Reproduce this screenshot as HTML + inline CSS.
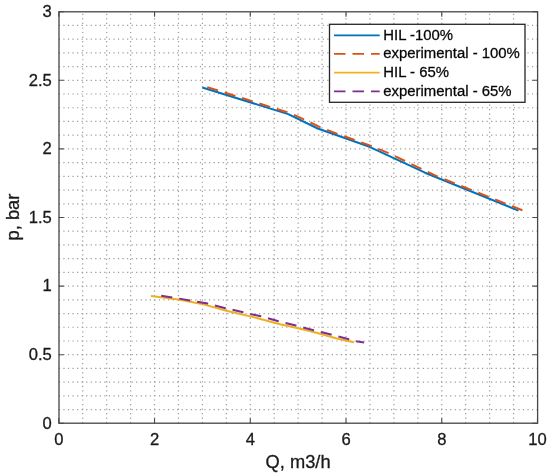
<!DOCTYPE html>
<html><head><meta charset="utf-8"><title>p vs Q</title>
<style>
html,body{margin:0;padding:0;background:#fff;}
svg{display:block;font-family:"Liberation Sans",Arial,sans-serif;}
text{stroke:#1a1a1a;stroke-width:0.3px;}
</style></head>
<body>
<svg width="550" height="475" viewBox="0 0 550 475">
<rect width="550" height="475" fill="#fff"/>
<g stroke="#9a9a9a" stroke-width="1.2" stroke-dasharray="1.2 3.35" fill="none"><line x1="82.73" y1="423.3" x2="82.73" y2="11.7" stroke-dasharray="1.2 3.337"/><line x1="106.67" y1="423.3" x2="106.67" y2="11.7" stroke-dasharray="1.2 3.337"/><line x1="130.6" y1="423.3" x2="130.6" y2="11.7" stroke-dasharray="1.2 3.337"/><line x1="154.54" y1="423.3" x2="154.54" y2="11.7" stroke-dasharray="1.2 3.337"/><line x1="178.47" y1="423.3" x2="178.47" y2="11.7" stroke-dasharray="1.2 3.337"/><line x1="202.41" y1="423.3" x2="202.41" y2="11.7" stroke-dasharray="1.2 3.337"/><line x1="226.35" y1="423.3" x2="226.35" y2="11.7" stroke-dasharray="1.2 3.337"/><line x1="250.28" y1="423.3" x2="250.28" y2="11.7" stroke-dasharray="1.2 3.337"/><line x1="274.22" y1="423.3" x2="274.22" y2="11.7" stroke-dasharray="1.2 3.337"/><line x1="298.15" y1="423.3" x2="298.15" y2="11.7" stroke-dasharray="1.2 3.337"/><line x1="322.08" y1="423.3" x2="322.08" y2="11.7" stroke-dasharray="1.2 3.337"/><line x1="346.02" y1="423.3" x2="346.02" y2="11.7" stroke-dasharray="1.2 3.337"/><line x1="369.95" y1="423.3" x2="369.95" y2="11.7" stroke-dasharray="1.2 3.337"/><line x1="393.89" y1="423.3" x2="393.89" y2="11.7" stroke-dasharray="1.2 3.337"/><line x1="417.82" y1="423.3" x2="417.82" y2="11.7" stroke-dasharray="1.2 3.337"/><line x1="441.76" y1="423.3" x2="441.76" y2="11.7" stroke-dasharray="1.2 3.337"/><line x1="465.69" y1="423.3" x2="465.69" y2="11.7" stroke-dasharray="1.2 3.337"/><line x1="489.63" y1="423.3" x2="489.63" y2="11.7" stroke-dasharray="1.2 3.337"/><line x1="513.56" y1="423.3" x2="513.56" y2="11.7" stroke-dasharray="1.2 3.337"/><line x1="58.8" y1="409.58" x2="537.5" y2="409.58"/><line x1="58.8" y1="395.86" x2="537.5" y2="395.86"/><line x1="58.8" y1="382.14" x2="537.5" y2="382.14"/><line x1="58.8" y1="368.42" x2="537.5" y2="368.42"/><line x1="58.8" y1="354.7" x2="537.5" y2="354.7"/><line x1="58.8" y1="340.98" x2="537.5" y2="340.98"/><line x1="58.8" y1="327.26" x2="537.5" y2="327.26"/><line x1="58.8" y1="313.54" x2="537.5" y2="313.54"/><line x1="58.8" y1="299.82" x2="537.5" y2="299.82"/><line x1="58.8" y1="286.1" x2="537.5" y2="286.1"/><line x1="58.8" y1="272.38" x2="537.5" y2="272.38"/><line x1="58.8" y1="258.66" x2="537.5" y2="258.66"/><line x1="58.8" y1="244.94" x2="537.5" y2="244.94"/><line x1="58.8" y1="231.22" x2="537.5" y2="231.22"/><line x1="58.8" y1="217.5" x2="537.5" y2="217.5"/><line x1="58.8" y1="203.78" x2="537.5" y2="203.78"/><line x1="58.8" y1="190.06" x2="537.5" y2="190.06"/><line x1="58.8" y1="176.34" x2="537.5" y2="176.34"/><line x1="58.8" y1="162.62" x2="537.5" y2="162.62"/><line x1="58.8" y1="148.9" x2="537.5" y2="148.9"/><line x1="58.8" y1="135.18" x2="537.5" y2="135.18"/><line x1="58.8" y1="121.46" x2="537.5" y2="121.46"/><line x1="58.8" y1="107.74" x2="537.5" y2="107.74"/><line x1="58.8" y1="94.02" x2="537.5" y2="94.02"/><line x1="58.8" y1="80.3" x2="537.5" y2="80.3"/><line x1="58.8" y1="66.58" x2="537.5" y2="66.58"/><line x1="58.8" y1="52.86" x2="537.5" y2="52.86"/><line x1="58.8" y1="39.14" x2="537.5" y2="39.14"/><line x1="58.8" y1="25.42" x2="537.5" y2="25.42"/></g>
<path d="M58.8 423.3v-5M58.8 11.7v5M154.54 423.3v-5M154.54 11.7v5M250.28 423.3v-5M250.28 11.7v5M346.02 423.3v-5M346.02 11.7v5M441.76 423.3v-5M441.76 11.7v5M537.5 423.3v-5M537.5 11.7v5M58.8 423.3h5M537.5 423.3h-5M58.8 354.7h5M537.5 354.7h-5M58.8 286.1h5M537.5 286.1h-5M58.8 217.5h5M537.5 217.5h-5M58.8 148.9h5M537.5 148.9h-5M58.8 80.3h5M537.5 80.3h-5M58.8 11.7h5M537.5 11.7h-5" stroke="#4a4a4a" stroke-width="1.1" fill="none"/>
<rect x="59" y="11.8" width="478.6" height="411.4" fill="none" stroke="#454545" stroke-width="1.3"/>
<polyline points="202.3,87.5 288.2,114.1 317.7,128.5 369.5,146.8 425,172.7 518.5,210.6" stroke="#0072bd" stroke-width="2" fill="none" stroke-linejoin="round"/>
<polyline points="207.3,87.1 289,112.8 304,119.4 320.5,127.3 337.3,133.9 371.8,146.1 388.6,153.2 437.7,176.6 522.4,210.3" stroke="#d95319" stroke-width="2" fill="none" stroke-dasharray="11.2 7"/>
<polyline points="150.9,295.9 178.6,299.6 204.5,304.6 226.4,310.7 257.7,318.2 280,324.2 298.2,328.2 316.4,332.8 338.6,339 353.9,342.3" stroke="#edb120" stroke-width="2" fill="none" stroke-linejoin="round"/>
<polyline points="161.2,295.7 190,300.4 207.7,303.6 225.5,308.2 243.2,312.3 260.9,316.3 278.5,321.3 295.9,325.5 313.6,330.2 330.9,334.5 348.8,339.3 355.5,341.1 364.1,342.5" stroke="#7e2f8e" stroke-width="2" fill="none" stroke-dasharray="11.2 7"/>
<g font-size="16.6" fill="#1a1a1a"><text x="58.8" y="445" text-anchor="middle">0</text><text x="154.54" y="445" text-anchor="middle">2</text><text x="250.28" y="445" text-anchor="middle">4</text><text x="346.02" y="445" text-anchor="middle">6</text><text x="441.76" y="445" text-anchor="middle">8</text><text x="537.5" y="445" text-anchor="middle">10</text><text x="51.8" y="428.5" text-anchor="end">0</text><text x="51.8" y="359.9" text-anchor="end">0.5</text><text x="51.8" y="291.3" text-anchor="end">1</text><text x="51.8" y="222.7" text-anchor="end">1.5</text><text x="51.8" y="154.1" text-anchor="end">2</text><text x="51.8" y="85.5" text-anchor="end">2.5</text><text x="51.8" y="16.9" text-anchor="end">3</text></g>
<text x="298.1" y="468" text-anchor="middle" font-size="18.3" fill="#1a1a1a">Q, m3/h</text>
<text transform="translate(18.5 217) rotate(-90)" text-anchor="middle" font-size="18.3" fill="#1a1a1a">p, bar</text>
<rect x="329.5" y="24.3" width="195.5" height="78" fill="#fff" stroke="#262626" stroke-width="1.3"/>
<line x1="334" y1="35.3" x2="379.7" y2="35.3" stroke="#0072bd" stroke-width="1.8"/>
<text x="383.3" y="39.8" font-size="14.9" fill="#000">HIL -100%</text>
<line x1="334" y1="53.8" x2="379.7" y2="53.8" stroke="#d95319" stroke-width="1.8" stroke-dasharray="11.5 7"/>
<text x="383.3" y="58.3" font-size="14.9" fill="#000">experimental - 100%</text>
<line x1="334" y1="72.6" x2="379.7" y2="72.6" stroke="#edb120" stroke-width="1.8"/>
<text x="383.3" y="77.1" font-size="14.9" fill="#000">HIL - 65%</text>
<line x1="334" y1="91.3" x2="379.7" y2="91.3" stroke="#7e2f8e" stroke-width="1.8" stroke-dasharray="11.5 7"/>
<text x="383.3" y="95.8" font-size="14.9" fill="#000">experimental - 65%</text>
</svg>
</body></html>
